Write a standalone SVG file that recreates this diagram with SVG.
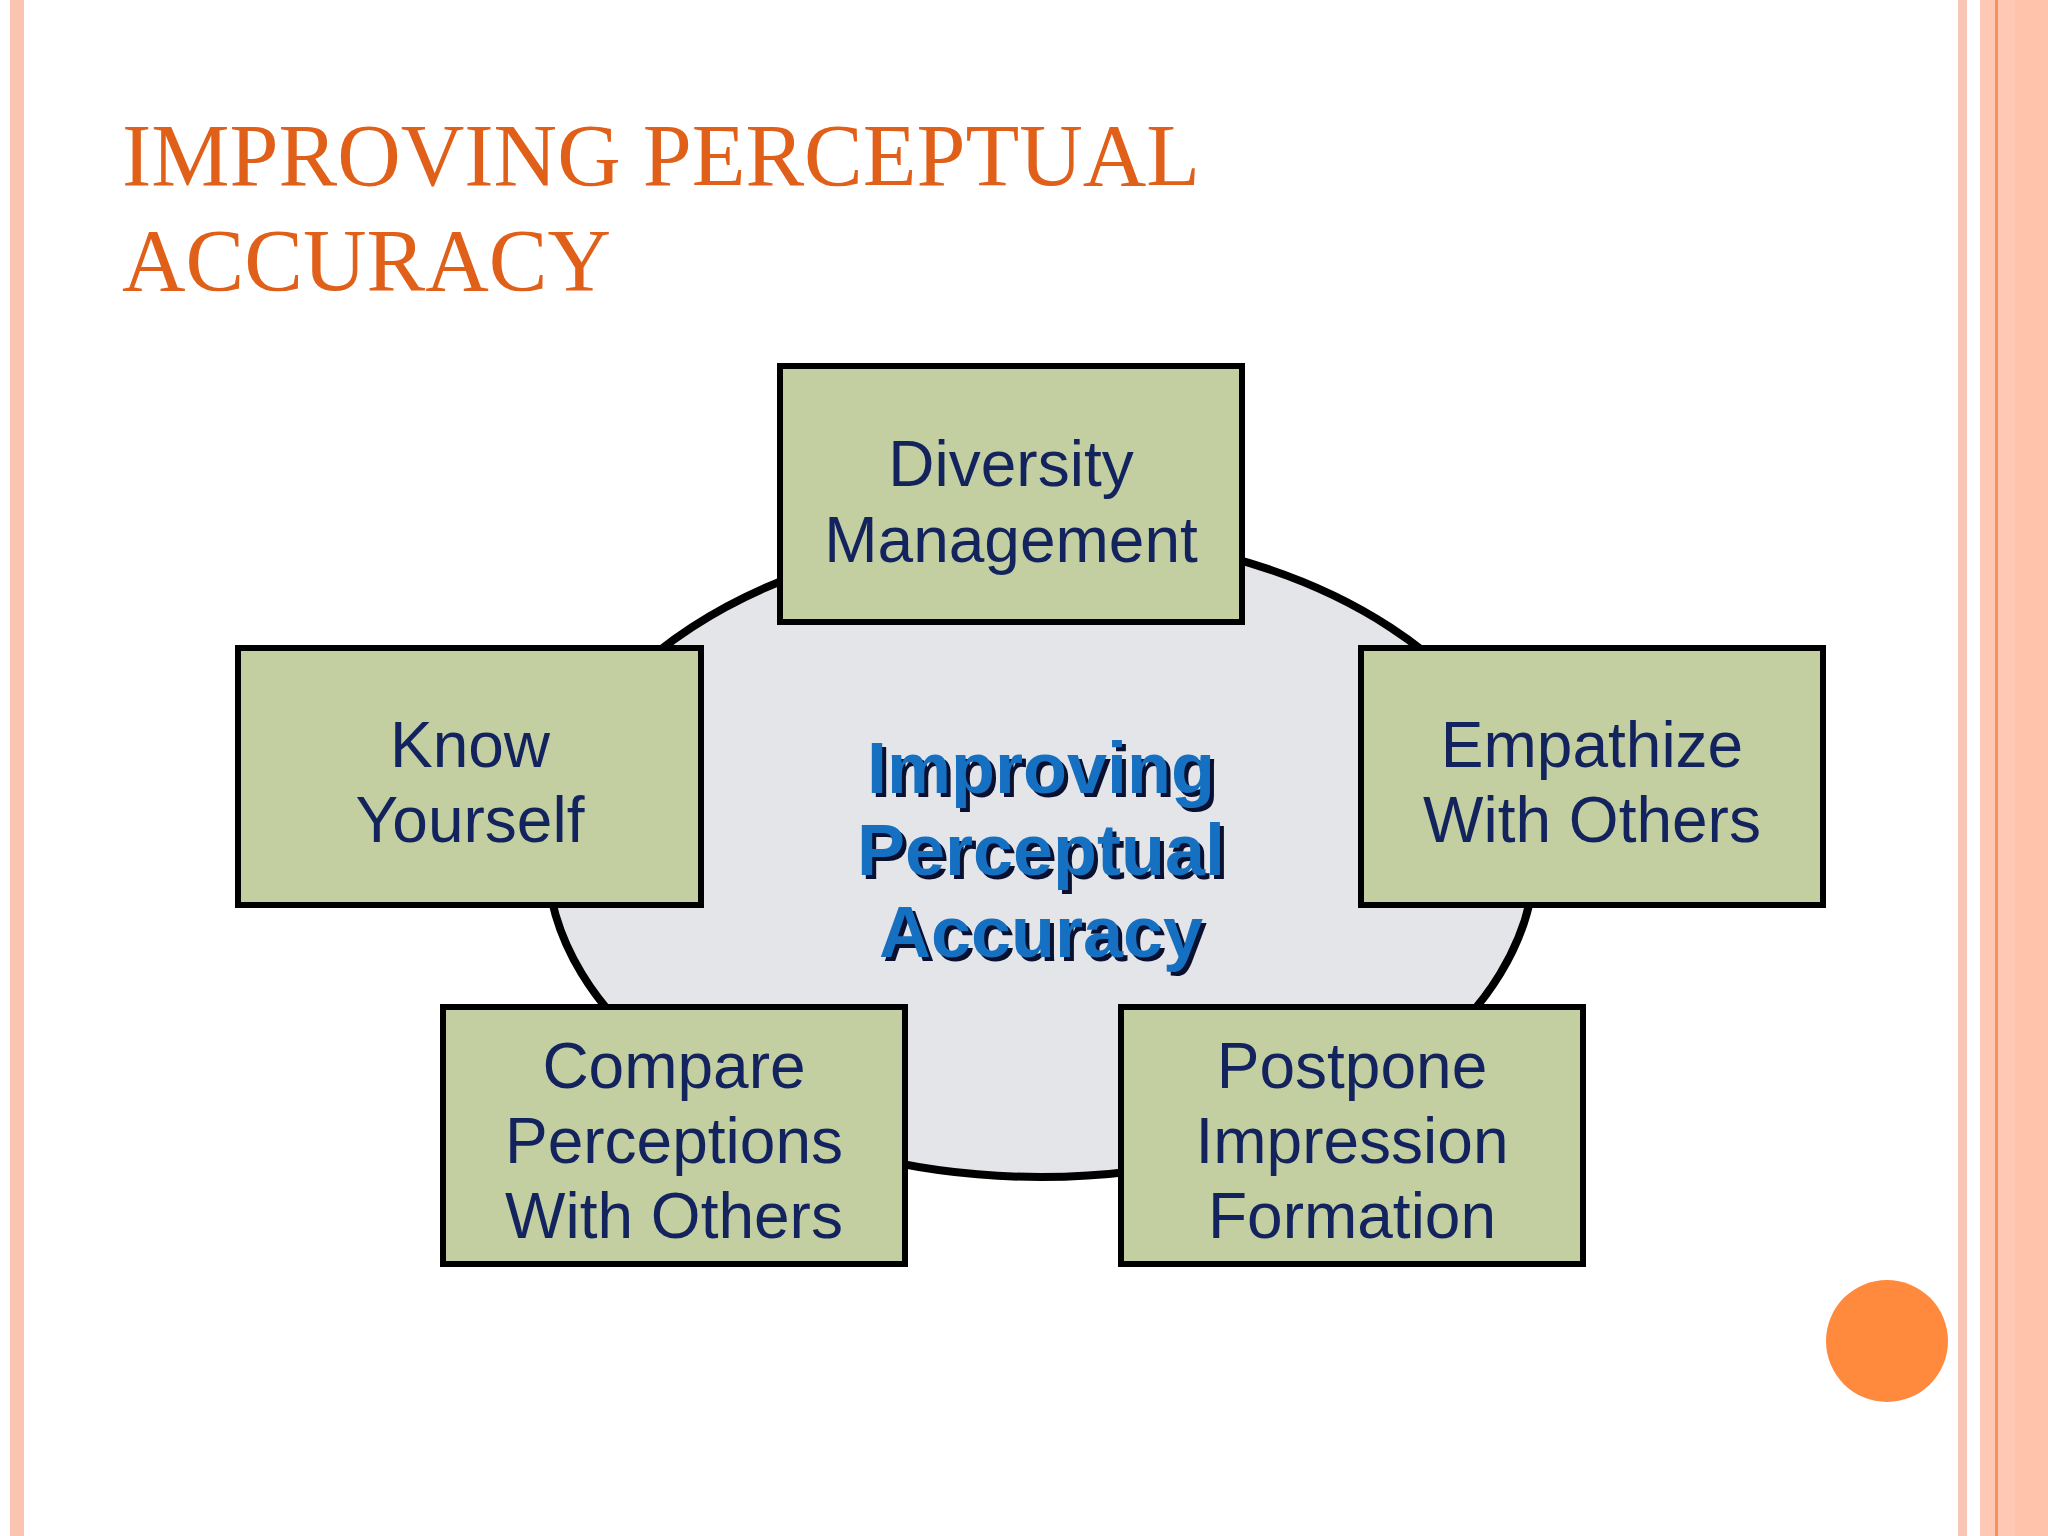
<svg xmlns="http://www.w3.org/2000/svg" width="2048" height="1536" viewBox="0 0 2048 1536">
<style>
.box{fill:#C3CFA1;stroke:#000;stroke-width:6}
.t{font-family:"Liberation Sans",Arial,sans-serif;font-size:64px;fill:#13235E;text-anchor:middle}
.c{font-family:"Liberation Sans",Arial,sans-serif;font-size:72px;font-weight:bold;fill:#1670C2;text-anchor:middle}
.sh{fill:#0A1030}
</style>
<rect width="2048" height="1536" fill="#fff"/>
<rect x="10" y="0" width="14" height="1536" fill="#FBC4B0"/>
<rect x="1958" y="0" width="9" height="1536" fill="#F9C5B5"/>
<rect x="1980" y="0" width="68" height="1536" fill="#FFC8B4"/>
<rect x="1995" y="0" width="3" height="1536" fill="#F4935A"/>
<rect x="2015" y="0" width="33" height="1536" fill="#FFC2AA"/>
<g id="title" font-family="Liberation Serif,serif" font-size="88" fill="#E0601A">
<text x="122" y="185">IMPROVING PERCEPTUAL</text>
<text x="122" y="290">ACCURACY</text>
</g>
<g id="center">
<ellipse cx="1041" cy="855" rx="494" ry="322" fill="#E3E5E8" stroke="#000" stroke-width="8"/>
<text class="c sh" x="1045" y="797">Improving</text>
<text class="c sh" x="1045" y="879">Perceptual</text>
<text class="c sh" x="1045" y="961">Accuracy</text>
<text class="c" x="1041" y="793">Improving</text>
<text class="c" x="1041" y="875">Perceptual</text>
<text class="c" x="1041" y="957">Accuracy</text>
</g>
<g id="connectors"></g>
<g id="diversity">
<rect class="box" x="780" y="366" width="462" height="256"/>
<text class="t" x="1011" y="486">Diversity</text>
<text class="t" x="1011" y="562">Management</text>
</g>
<g id="know">
<rect class="box" x="238" y="648" width="463" height="257"/>
<text class="t" x="470" y="767">Know</text>
<text class="t" x="470" y="842">Yourself</text>
</g>
<g id="empathize">
<rect class="box" x="1361" y="648" width="462" height="257"/>
<text class="t" x="1592" y="767">Empathize</text>
<text class="t" x="1592" y="842">With Others</text>
</g>
<g id="compare">
<rect class="box" x="443" y="1007" width="462" height="257"/>
<text class="t" x="674" y="1088">Compare</text>
<text class="t" x="674" y="1163">Perceptions</text>
<text class="t" x="674" y="1238">With Others</text>
</g>
<g id="postpone">
<rect class="box" x="1121" y="1007" width="462" height="257"/>
<text class="t" x="1352" y="1088">Postpone</text>
<text class="t" x="1352" y="1163">Impression</text>
<text class="t" x="1352" y="1238">Formation</text>
</g>
<circle cx="1887" cy="1341" r="61" fill="#FF8A3D"/>
</svg>
